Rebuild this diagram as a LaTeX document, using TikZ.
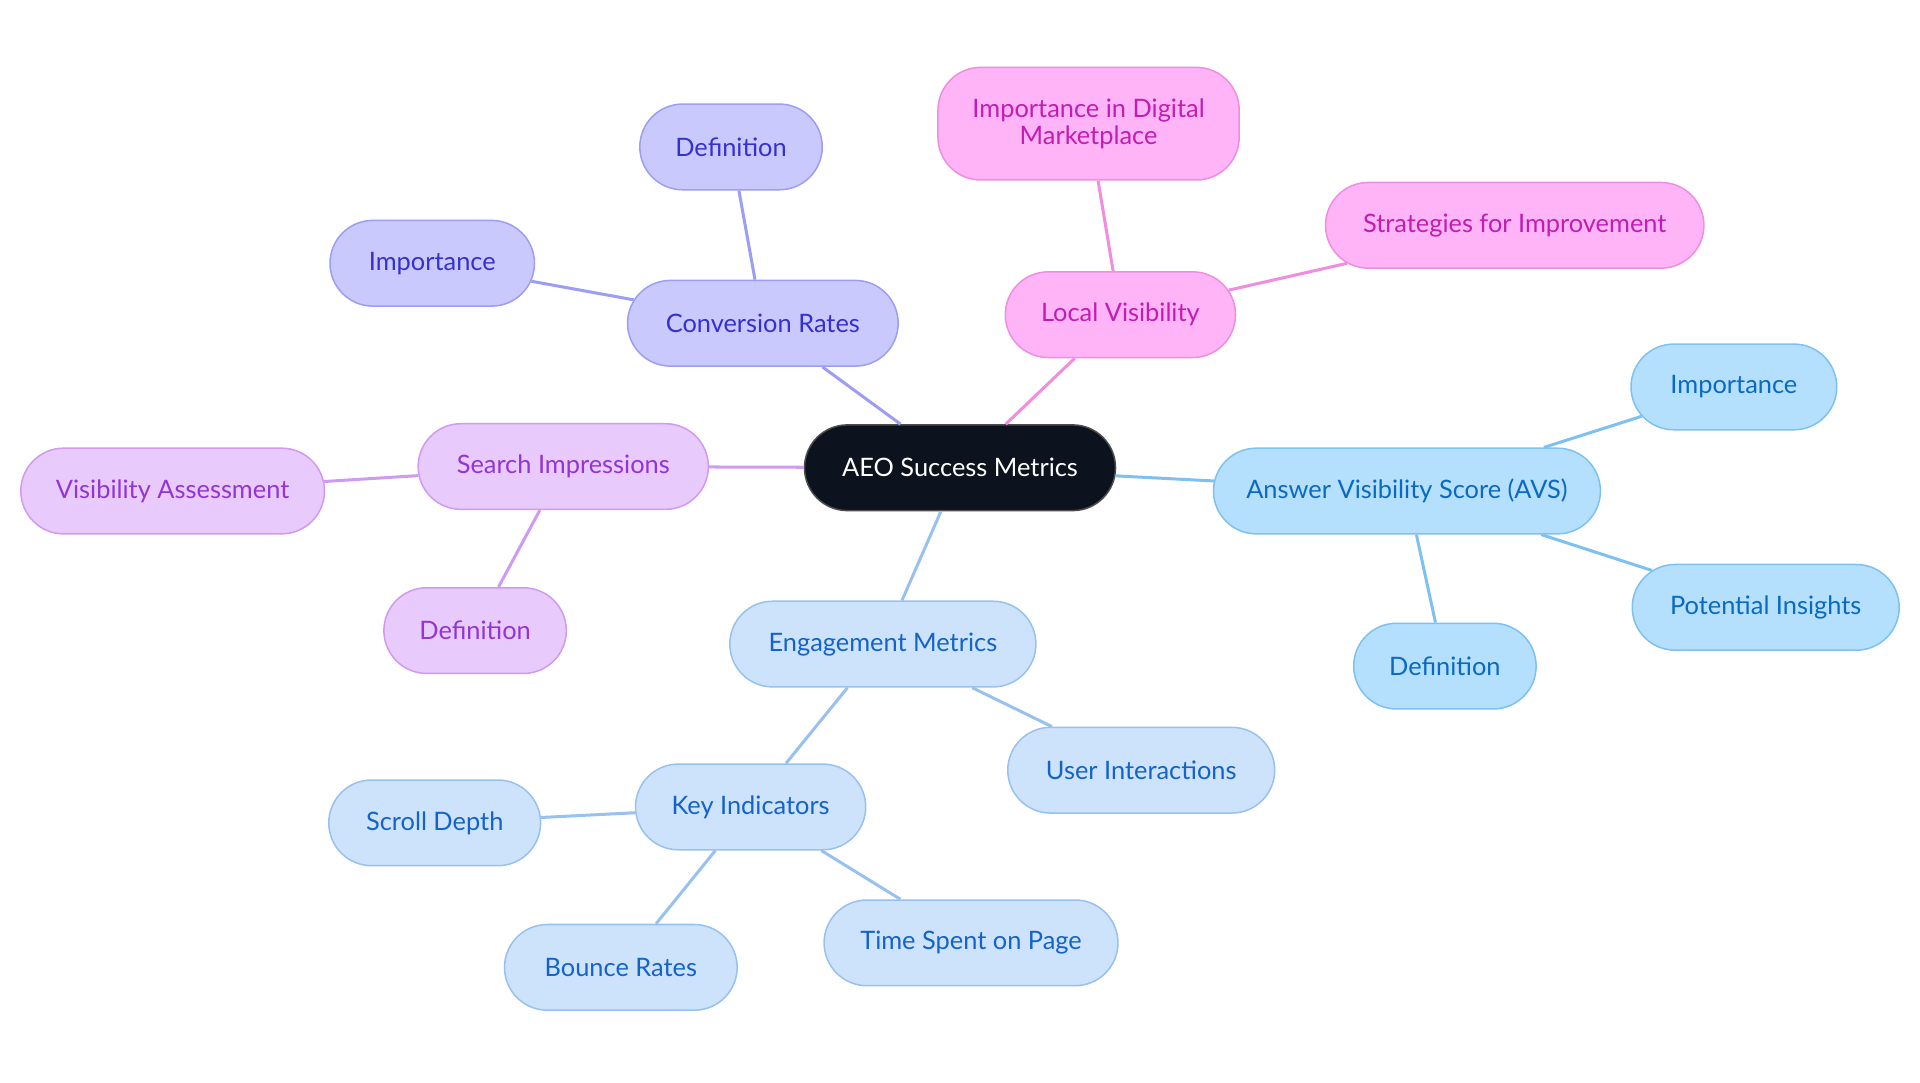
\documentclass[tikz,border=0pt]{standalone}
\usepackage{fontspec}
\setmainfont{Lato}
\usetikzlibrary{shapes.misc}
\definecolor{rootfill}{HTML}{0D131E}
\definecolor{crfill}{HTML}{C9C9FD}\definecolor{crline}{HTML}{9D9DF3}\definecolor{crtext}{HTML}{3530CF}
\definecolor{lvfill}{HTML}{FEB4F6}\definecolor{lvline}{HTML}{EF8EE0}\definecolor{lvtext}{HTML}{C21DB2}
\definecolor{sifill}{HTML}{E8CAFC}\definecolor{siline}{HTML}{CF9AF0}\definecolor{sitext}{HTML}{9234D6}
\definecolor{avfill}{HTML}{B4DFFD}\definecolor{avline}{HTML}{7EC1F0}\definecolor{avtext}{HTML}{0A6AC2}
\definecolor{emfill}{HTML}{CDE2FB}\definecolor{emline}{HTML}{98C1EF}\definecolor{emtext}{HTML}{1463C9}
\tikzset{
  box/.style={draw, rounded rectangle, line width=0.7pt, minimum height=1.4cm, inner sep=0pt, align=center, font=\fontsize{11.8}{12.3}\selectfont},
  tallbox/.style={draw, rectangle, rounded corners=0.7cm, line width=0.7pt, minimum height=1.84cm, inner sep=0pt, align=center, font=\fontsize{11.8}{12.3}\selectfont},
  root/.style={box, fill=rootfill, draw=black!70, text=white},
  cr/.style={box, fill=crfill, draw=crline, text=crtext},
  lv/.style={box, fill=lvfill, draw=lvline, text=lvtext},
  lvtall/.style={tallbox, fill=lvfill, draw=lvline, text=lvtext},
  si/.style={box, fill=sifill, draw=siline, text=sitext},
  av/.style={box, fill=avfill, draw=avline, text=avtext},
  em/.style={box, fill=emfill, draw=emline, text=emtext},
  link/.style={line width=1.4pt},
}
\begin{document}
\begin{tikzpicture}[x=0.02cm, y=-0.02cm]
\useasboundingbox (0,0) rectangle (1568,884);
\node[root, minimum width=254*0.02cm] (root) at (784,382) {AEO Success Metrics};
\node[cr, minimum width=221*0.02cm] (cr) at (623,264) {Conversion Rates};
\node[cr, minimum width=149*0.02cm] (crdef) at (597,120) {Definition};
\node[cr, minimum width=167*0.02cm] (crimp) at (353,215) {Importance};
\node[lv, minimum width=188*0.02cm] (lv) at (915,257) {Local Visibility};
\node[lvtall, minimum width=246*0.02cm] (lvimp) at (889,101) {Importance in Digital\\Marketplace};
\node[lv, minimum width=309*0.02cm] (lvstr) at (1237,184) {Strategies for Improvement};
\node[av, minimum width=316*0.02cm] (av) at (1149,401) {Answer Visibility Score (AVS)};
\node[av, minimum width=168*0.02cm] (avimp) at (1416,316) {Importance};
\node[av, minimum width=218*0.02cm] (avpot) at (1442,496) {Potential Insights};
\node[av, minimum width=149*0.02cm] (avdef) at (1180,544) {Definition};
\node[si, minimum width=237*0.02cm] (si) at (460,381) {Search Impressions};
\node[si, minimum width=248*0.02cm] (sivis) at (141,401) {Visibility Assessment};
\node[si, minimum width=149*0.02cm] (sidef) at (388,515) {Definition};
\node[em, minimum width=250*0.02cm] (em) at (721,526) {Engagement Metrics};
\node[em, minimum width=218*0.02cm] (emui) at (932,629) {User Interactions};
\node[em, minimum width=188*0.02cm] (emki) at (613,659) {Key Indicators};
\node[em, minimum width=173*0.02cm] (emsd) at (355,672) {Scroll Depth};
\node[em, minimum width=190*0.02cm] (embr) at (507,790) {Bounce Rates};
\node[em, minimum width=240*0.02cm] (emts) at (793,770) {Time Spent on Page};
% connectors
\draw[link, crline] (root) -- (cr);
\draw[link, crline] (cr) -- (crdef);
\draw[link, crline] (cr) -- (crimp);
\draw[link, lvline] (root) -- (lv);
\draw[link, lvline] (lv) -- (lvimp);
\draw[link, lvline] (lv) -- (lvstr);
\draw[link, avline] (root) -- (av);
\draw[link, avline] (av) -- (avimp);
\draw[link, avline] (av) -- (avpot);
\draw[link, avline] (av) -- (avdef);
\draw[link, siline] (root) -- (si);
\draw[link, siline] (si) -- (sivis);
\draw[link, siline] (si) -- (sidef);
\draw[link, emline] (root) -- (em);
\draw[link, emline] (em) -- (emui);
\draw[link, emline] (em) -- (emki);
\draw[link, emline] (emki) -- (emsd);
\draw[link, emline] (emki) -- (embr);
\draw[link, emline] (emki) -- (emts);
\end{tikzpicture}
\end{document}
